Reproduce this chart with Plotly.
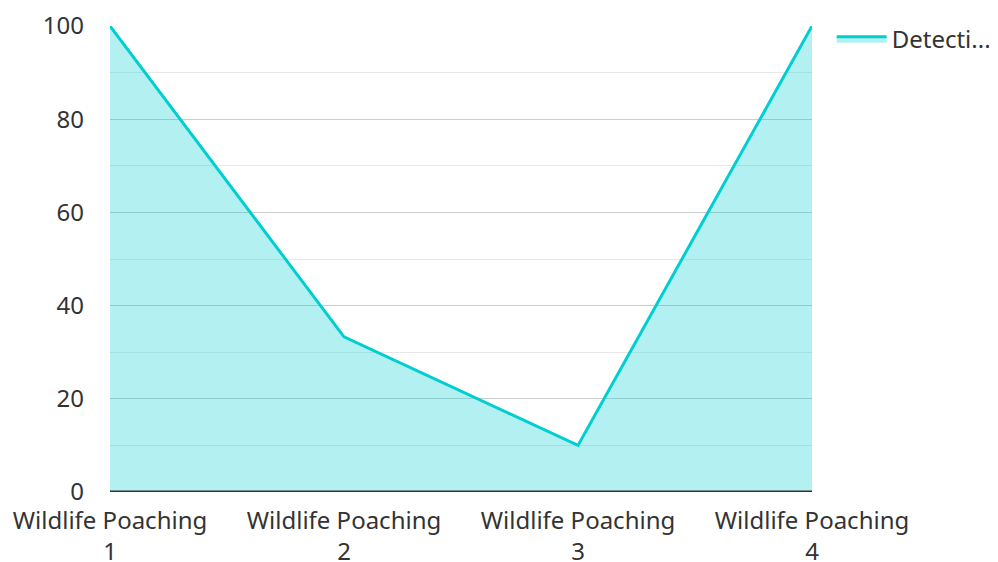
import plotly.graph_objects as go

categories = ["Wildlife Poaching<br>1", "Wildlife Poaching<br>2", "Wildlife Poaching<br>3", "Wildlife Poaching<br>4"]
values = [100, 33.3, 10, 100]
series_name = "Detecti..."

fig = go.Figure()
fig.add_trace(go.Scatter(
    x=categories, y=values, name=series_name, mode="lines",
    line=dict(color="#00CED1", width=3),
    fill="tozeroy", fillcolor="rgba(0,206,209,0.3)",
))

fig.update_layout(
    width=990, height=554,
    margin=dict(l=102, r=186, t=18, b=70, autoexpand=False),
    paper_bgcolor="white", plot_bgcolor="white",
    font=dict(family="Noto Sans", size=24, color="#333333"),
    showlegend=True,
    legend=dict(x=1.028, y=1.02, xanchor="left", yanchor="top",
                font=dict(size=24, color="#333333"), itemwidth=50),
    xaxis=dict(type="category", range=[0, 3], showgrid=False,
               showline=False, zeroline=False, ticks="", tickfont=dict(size=24),
               ticklabelstandoff=12, automargin=False),
    yaxis=dict(range=[0, 100], dtick=20, showgrid=True, gridcolor="#cccccc", gridwidth=1,
               minor=dict(dtick=10, showgrid=True, gridcolor="#e8e8e8"),
               zeroline=False, showline=False, ticks="", ticklabelstandoff=25,
               tickfont=dict(size=24), automargin=False),
    shapes=[dict(type="line", xref="paper", yref="y", x0=0, x1=1, y0=0, y1=0,
                 line=dict(color="#333333", width=3))],
)

fig.write_html("out.html")
